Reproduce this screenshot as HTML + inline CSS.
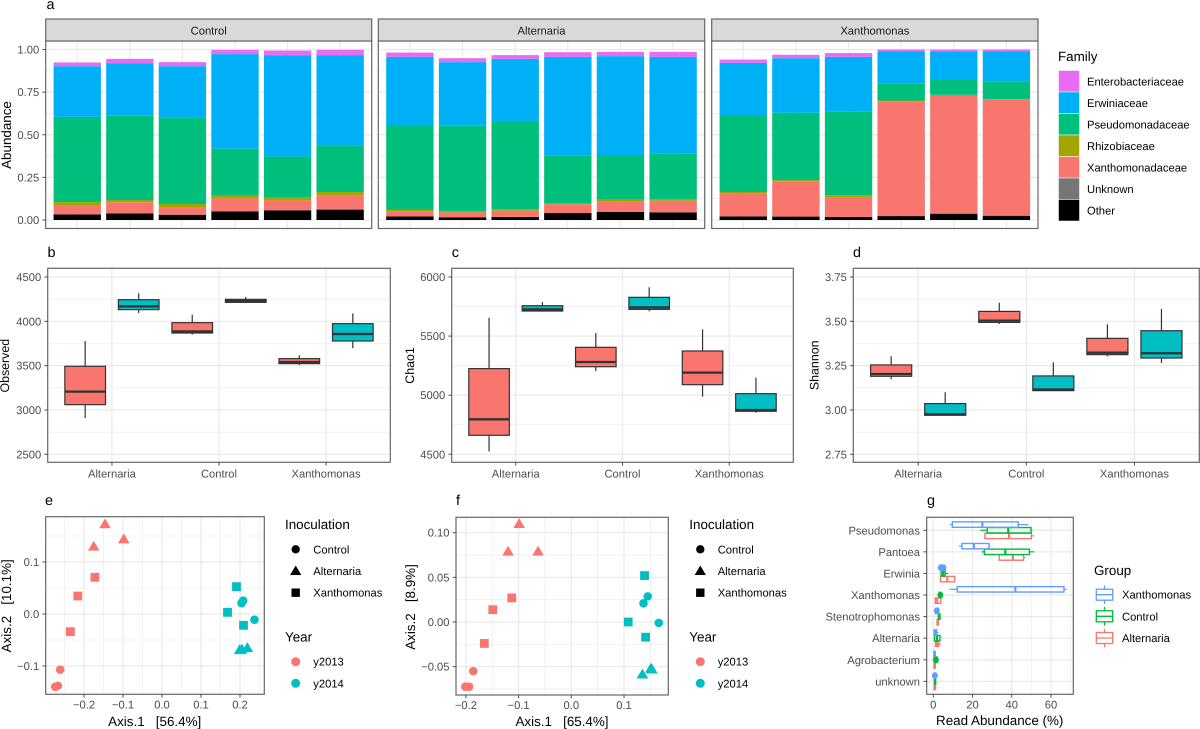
<!DOCTYPE html>
<html lang="en">
<head>
<meta charset="utf-8">
<title>Microbiome composition and diversity figure</title>
<style>
html,body{margin:0;padding:0;background:#fff;width:1200px;height:729px;overflow:hidden}
svg{display:block;font-family:"Liberation Sans",Arial,sans-serif;filter:blur(.3px);text-rendering:geometricPrecision}
.letter{font-size:14.4px;fill:#000}
.title{font-size:13.4px;fill:#000}
.title-s{font-size:12.4px;fill:#000}
.leg{font-size:11.2px;fill:#000}
</style>
</head>
<body>
<svg id="figure" width="1200" height="729" viewBox="0 0 1200 729" xmlns="http://www.w3.org/2000/svg">
  <rect x="0" y="0" width="1200" height="729" fill="#fff"/>
  <text class="letter" x="46.5" y="9">a</text>
  <text class="letter" x="47.5" y="257">b</text>
  <text class="letter" x="451.7" y="257">c</text>
  <text class="letter" x="853" y="257">d</text>
  <text class="letter" x="45" y="505">e</text>
  <text class="letter" x="456" y="505">f</text>
  <text class="letter" x="927" y="505">g</text>

  <text class="title" transform="translate(11,135) rotate(-90)" text-anchor="middle">Abundance</text>
  <text class="title-s" transform="translate(9,365.7) rotate(-90)" text-anchor="middle">Observed</text>
  <text class="title-s" transform="translate(414,365.5) rotate(-90)" text-anchor="middle">Chao1</text>
  <text class="title-s" transform="translate(818.3,365.3) rotate(-90)" text-anchor="middle">Shannon</text>
  <text class="title" x="154.7" y="726" text-anchor="middle">Axis.1&#160;&#160;&#160;[56.4%]</text>
  <text class="title" transform="translate(11,605.8) rotate(-90)" text-anchor="middle">Axis.2&#160;&#160;&#160;[10.1%]</text>
  <text class="title" x="562" y="726" text-anchor="middle">Axis.1&#160;&#160;&#160;[65.4%]</text>
  <text class="title" transform="translate(415,607) rotate(-90)" text-anchor="middle">Axis.2&#160;&#160;&#160;[8.9%]</text>
  <text class="title" x="999.7" y="725" text-anchor="middle">Read Abundance (%)</text>

  <g>
    <text class="title" x="1058" y="61">Family</text>
    <rect x="1058.5" y="70.5" width="21" height="21.5" fill="#E76BF3" stroke="#fff" stroke-width=".5"/>
    <rect x="1058.5" y="92" width="21" height="21.5" fill="#00B0F6" stroke="#fff" stroke-width=".5"/>
    <rect x="1058.5" y="113.5" width="21" height="21.5" fill="#00BF7D" stroke="#fff" stroke-width=".5"/>
    <rect x="1058.5" y="135" width="21" height="21.5" fill="#A3A500" stroke="#fff" stroke-width=".5"/>
    <rect x="1058.5" y="156.5" width="21" height="21.5" fill="#F8766D" stroke="#fff" stroke-width=".5"/>
    <rect x="1058.5" y="178" width="21" height="21.5" fill="#767676" stroke="#fff" stroke-width=".5"/>
    <rect x="1058.5" y="199.5" width="21" height="21.5" fill="#000" stroke="#fff" stroke-width=".5"/>
    <text class="leg" x="1087" y="85.3">Enterobacteriaceae</text>
    <text class="leg" x="1087" y="106.8">Erwiniaceae</text>
    <text class="leg" x="1087" y="128.3">Pseudomonadaceae</text>
    <text class="leg" x="1087" y="149.8">Rhizobiaceae</text>
    <text class="leg" x="1087" y="171.3">Xanthomonadaceae</text>
    <text class="leg" x="1087" y="192.8">Unknown</text>
    <text class="leg" x="1087" y="214.3">Other</text>
  </g>

  <g>
    <text class="title" x="285" y="529">Inoculation</text>
    <circle cx="295.7" cy="549.3" r="4.2" fill="#000"/>
    <polygon points="295.7,565.5 301.3,575 290.1,575" fill="#000"/>
    <rect x="291.5" y="588.5" width="8.4" height="8.4" fill="#000"/>
    <text class="leg" x="313.3" y="553.3">Control</text>
    <text class="leg" x="313.3" y="575">Alternaria</text>
    <text class="leg" x="313.3" y="596.7">Xanthomonas</text>
    <text class="title" x="285" y="641.7">Year</text>
    <circle cx="295.7" cy="661.7" r="4.5" fill="#F8766D"/>
    <circle cx="295.7" cy="683.3" r="4.5" fill="#00BFC4"/>
    <text class="leg" x="313.3" y="665.7">y2013</text>
    <text class="leg" x="313.3" y="687.3">y2014</text>
  </g>

  <g>
    <text class="title" x="689.3" y="529">Inoculation</text>
    <circle cx="700.3" cy="549.3" r="4.2" fill="#000"/>
    <polygon points="700.3,565.5 705.9,575 694.7,575" fill="#000"/>
    <rect x="696.1" y="588.5" width="8.4" height="8.4" fill="#000"/>
    <text class="leg" x="717.7" y="553.3">Control</text>
    <text class="leg" x="717.7" y="575">Alternaria</text>
    <text class="leg" x="717.7" y="596.7">Xanthomonas</text>
    <text class="title" x="689.3" y="641.7">Year</text>
    <circle cx="700.3" cy="661.7" r="4.5" fill="#F8766D"/>
    <circle cx="700.3" cy="683.3" r="4.5" fill="#00BFC4"/>
    <text class="leg" x="717.7" y="665.7">y2013</text>
    <text class="leg" x="717.7" y="687.3">y2014</text>
  </g>

  <g>
    <text class="title" x="1094" y="575">Group</text>
    <g fill="none" stroke="#619CFF" stroke-width="1.3">
      <rect x="1096.3" y="589.2" width="16.4" height="11"/><line x1="1096.3" x2="1112.7" y1="594.7" y2="594.7"/><line x1="1104.5" x2="1104.5" y1="585.5" y2="589.2"/><line x1="1104.5" x2="1104.5" y1="600.2" y2="604"/>
    </g>
    <g fill="none" stroke="#00BA38" stroke-width="1.3">
      <rect x="1096.3" y="610.8" width="16.4" height="11"/><line x1="1096.3" x2="1112.7" y1="616.3" y2="616.3"/><line x1="1104.5" x2="1104.5" y1="607" y2="610.8"/><line x1="1104.5" x2="1104.5" y1="621.8" y2="625.6"/>
    </g>
    <g fill="none" stroke="#F8766D" stroke-width="1.3">
      <rect x="1096.3" y="632.5" width="16.4" height="11"/><line x1="1096.3" x2="1112.7" y1="638" y2="638"/><line x1="1104.5" x2="1104.5" y1="628.8" y2="632.5"/><line x1="1104.5" x2="1104.5" y1="643.5" y2="647.2"/>
    </g>
    <text class="leg" x="1122" y="598.7">Xanthomonas</text>
    <text class="leg" x="1122" y="620.3">Control</text>
    <text class="leg" x="1122" y="642">Alternaria</text>
  </g>
</svg>

<script>
// ---------- Panel a: stacked family abundance (6 samples in each facet) ----------
const facetNames = ["Control", "Alternaria", "Xanthomonas"];
const abundanceTickLabels = ["0.00", "0.25", "0.50", "0.75", "1.00"];
const otherValues = [.033,.039,.031,.051,.057,.061, .021,.016,.018,.041,.047,.045, .021,.020,.018,.023,.037,.025];
const unknownValues = [0,0,0,0,0,0, 0,0,0,0,0,0, 0,0,0,0,0,0];
const xanthomonadaceaeValues = [.055,.065,.043,.076,.058,.085, .030,.029,.037,.051,.064,.068, .135,.207,.117,.674,.693,.680];
const rhizobiaceaeValues = [.017,.013,.020,.016,.016,.018, .008,.008,.008,.008,.008,.010, .008,.007,.011,.004,.004,.004];
const pseudomonadaceaeValues = [.500,.494,.508,.275,.242,.275, .498,.500,.515,.277,.262,.266, .449,.395,.489,.098,.090,.105];
const erwiniaceaeValues = [.297,.309,.300,.555,.594,.528, .400,.373,.367,.580,.580,.568, .309,.320,.322,.189,.166,.174];
const enterobacteriaceaeValues = [.022,.025,.024,.025,.027,.031, .025,.023,.022,.027,.025,.029, .019,.020,.022,.012,.010,.012];

// ---------- Panels b, c, d: boxplots, each row is [low, q1, median, q3, high] ----------
const boxCategories = ["Alternaria", "Control", "Xanthomonas"];
const observedTickLabels = ["2500", "3000", "3500", "4000", "4500"];
const observed2013 = [[2910,3060,3207,3493,3778],[3850,3868,3887,3985,4075],[3508,3523,3541,3579,3617]];
const observed2014 = [[4094,4132,4169,4244,4316],[4214,4214,4229,4248,4274],[3696,3778,3857,3974,4090]];
const chao1TickLabels = ["4500", "5000", "5500", "6000"];
const chao12013 = [[4525,4661,4796,5225,5656],[5205,5241,5281,5405,5526],[4988,5089,5191,5374,5557]];
const chao12014 = [[5712,5712,5726,5757,5788],[5710,5726,5743,5828,5913],[4852,4864,4875,5013,5148]];
const shannonTickLabels = ["2.75", "3.00", "3.25", "3.50", "3.75"];
const shannon2013 = [[3.173,3.19,3.203,3.254,3.303],[3.485,3.494,3.504,3.556,3.605],[3.303,3.312,3.323,3.404,3.483]];
const shannon2014 = [[2.97,2.97,2.976,3.036,3.10],[3.109,3.109,3.115,3.192,3.269],[3.265,3.293,3.32,3.447,3.57]];

// ---------- Panels e, f: ordination points ----------
const pcoaYear = ["y2013","y2013","y2013","y2013","y2013","y2013","y2013","y2013","y2013","y2014","y2014","y2014","y2014","y2014","y2014","y2014","y2014","y2014"];
const pcoaInoculation = ["Alternaria","Alternaria","Alternaria","Xanthomonas","Xanthomonas","Xanthomonas","Control","Control","Control","Xanthomonas","Xanthomonas","Xanthomonas","Control","Control","Control","Alternaria","Alternaria","Alternaria"];
const eAxis1 = [-.146,-.175,-.098,-.172,-.216,-.235,-.261,-.267,-.274,.191,.168,.209,.208,.204,.237,.199,.219,.205];
const eAxis2 = [.173,.130,.144,.0705,.0346,-.034,-.107,-.138,-.140,.0526,.0032,-.0218,.0256,.021,-.011,-.069,-.065,-.068];
const eXTickLabels = ["\u22120.2","\u22120.1","0.0","0.1","0.2"];
const eYTickLabels = ["\u22120.1","0.0","0.1"];
const fAxis1 = [-.099,-.120,-.063,-.113,-.149,-.165,-.186,-.194,-.201,.139,.108,.141,.145,.137,.166,.151,.135,.153];
const fAxis2 = [.110,.079,.079,.027,.0138,-.024,-.055,-.0724,-.0724,.052,0,-.017,.0287,.0209,-.001,-.052,-.0586,-.053];
const fXTickLabels = ["\u22120.2","\u22120.1","0.0","0.1"];
const fYTickLabels = ["\u22120.05","0.00","0.05","0.10"];

// ---------- Panel g: horizontal boxplots, each row is [min, q1, median, q3, max] ----------
const genusCategories = ["Pseudomonas","Pantoea","Erwinia","Xanthomonas","Stenotrophomonas","Alternaria","Agrobacterium","unknown"];
const readTickLabels = ["0","20","40","60"];
const readsXanthomonas = [[8.5,9.7,25,43.3,48.6],[13,14.6,20.7,28.4,29],[3,3.5,4.5,5.5,6],[8.2,12.2,41.8,66.6,68],[1,1.2,1.8,2.6,2.8],[.1,.4,.9,1.7,2.7],[.2,.3,.6,1,1.2],[.2,.5,.9,1.3,1.6]];
const readsControl = [[24,27.5,38.2,49.8,50.5],[24.6,26,36.7,49,51.5],[4,4,5,6,7.6],[2.8,3,3.6,4,4.5],[2.4,2.6,3,3.4,3.7],[.4,.6,1.9,3.4,3.6],[.5,.7,1.3,2,2.4],[.5,.6,.9,1.2,1.4]];
const readsAlternaria = [[26.3,26.3,38.6,50,51.3],[33.3,33.6,40.6,46,47],[3.4,3.7,7.1,10.9,11.4],[.8,1,2,3.8,4],[1.8,1.9,2.2,2.6,2.8],[1,1.1,1.8,2.7,3.9],[.3,.4,.7,1,1.1],[.4,.5,.8,1.1,1.2]];
const outlierGenus = ["Erwinia","Erwinia","Xanthomonas","Stenotrophomonas","Agrobacterium","unknown"];
const outlierGroup = ["Xanthomonas","Xanthomonas","Control","Xanthomonas","Control","Xanthomonas"];
const outlierReads = [3.8,5.2,3.6,1.8,1.3,.8];

// ---------- Drawing helpers ----------
const SVGNS = "http://www.w3.org/2000/svg";
const figure = document.getElementById("figure");
const GRID = "#E9E9E9", BORDER = "#666", TICK = "#4D4D4D", BOXLINE = "#333";
const RED = "#F8766D", TEAL = "#00BFC4";
const groupColor = {Xanthomonas:"#619CFF", Control:"#00BA38", Alternaria:"#F8766D"};

function make(tag, attrs, parent, txt) {
  const el = document.createElementNS(SVGNS, tag);
  for (const k in attrs) el.setAttribute(k, attrs[k]);
  if (txt !== undefined) el.textContent = txt;
  parent.appendChild(el);
  return el;
}
function makeGroup(parent, name) {
  const el = make("g", {}, parent);
  
  
  return el;
}
function rule(parent, x1, y1, x2, y2, stroke, w, name) {
  const el = make("line", {x1, y1, x2, y2, stroke, "stroke-width": w}, parent);
  
  
  return el;
}
function label(parent, x, y, txt, anchor, size, fill, name) {
  const el = make("text", {x, y, "text-anchor": anchor, "font-size": size, fill}, parent, txt);
  
  
  return el;
}
function linear(d0, d1, r0, r1) { return v => r0 + (v - d0) * (r1 - r0) / (d1 - d0); }
function tickValue(t) { return Number(t.replace("\u2212", "-")); }
function bandCenter(x0, x1, n) { return i => x0 + (i + 0.6) * (x1 - x0) / (n + 0.2); }

function panelBackground(parent, p) {
  const el = make("rect", {x: p.x0, y: p.y0, width: p.x1 - p.x0, height: p.y1 - p.y0, fill: "#fff"}, parent);
  
  
}
function panelBorder(parent, p) {
  const el = make("rect", {x: p.x0, y: p.y0, width: p.x1 - p.x0, height: p.y1 - p.y0, fill: "none", stroke: BORDER, "stroke-width": 1.2}, parent);
  
  
}
function horizontalGrid(parent, p, scale, labels) {
  const vals = labels.map(tickValue);
  const half = (vals[1] - vals[0]) / 2;
  const mids = [vals[0] - half].concat(vals.map(v => v + half));
  mids.forEach(v => { const y = scale(v); if (y > p.y0 && y < p.y1) rule(parent, p.x0, y, p.x1, y, GRID, .6, "minor-gridline"); });
  vals.forEach(v => rule(parent, p.x0, scale(v), p.x1, scale(v), GRID, 1.2, "major-gridline"));
}
function verticalGrid(parent, p, scale, labels) {
  const vals = labels.map(tickValue);
  const half = (vals[1] - vals[0]) / 2;
  const mids = [vals[0] - half].concat(vals.map(v => v + half));
  mids.forEach(v => { const x = scale(v); if (x > p.x0 && x < p.x1) rule(parent, x, p.y0, x, p.y1, GRID, .6, "minor-gridline"); });
  vals.forEach(v => rule(parent, scale(v), p.y0, scale(v), p.y1, GRID, 1.2, "major-gridline"));
}
function yAxisTicks(parent, p, scale, labels) {
  labels.forEach(t => {
    const y = scale(tickValue(t));
    rule(parent, p.x0 - 3.3, y, p.x0, y, TICK, 1, "y-axis-tick");
    label(parent, p.x0 - 6.5, y + 4, t, "end", 11.2, TICK, "y-tick-label");
  });
}
function xAxisTicks(parent, p, scale, labels) {
  labels.forEach(t => {
    const x = scale(tickValue(t));
    rule(parent, x, p.y1, x, p.y1 + 3.3, TICK, 1, "x-axis-tick");
    label(parent, x, p.y1 + 14, t, "middle", 11.2, TICK, "x-tick-label");
  });
}

// ---------- Panel a ----------
const stackOrder = [
  {name: "other", values: otherValues, color: "#000"},
  {name: "unknown", values: unknownValues, color: "#767676"},
  {name: "xanthomonadaceae", values: xanthomonadaceaeValues, color: "#F8766D"},
  {name: "rhizobiaceae", values: rhizobiaceaeValues, color: "#A3A500"},
  {name: "pseudomonadaceae", values: pseudomonadaceaeValues, color: "#00BF7D"},
  {name: "erwiniaceae", values: erwiniaceaeValues, color: "#00B0F6"},
  {name: "enterobacteriaceae", values: enterobacteriaceaeValues, color: "#E76BF3"}
];
const abundanceY = linear(0, 1, 220, 49.5);
const facetFrames = [{x0: 45.7, x1: 371.7}, {x0: 378.3, x1: 704.7}, {x0: 711.7, x1: 1038}];
const samplesPerFacet = 6;
const stripTop = 19, stripBottom = 41, facetBottom = 228.5;

facetNames.forEach((facet, f) => {
  const frame = facetFrames[f];
  const p = {x0: frame.x0, x1: frame.x1, y0: stripBottom, y1: facetBottom};
  const g = makeGroup(figure, "abundance-facet-" + facet.toLowerCase());
  panelBackground(g, p);
  horizontalGrid(g, p, abundanceY, abundanceTickLabels);
  const center = bandCenter(p.x0, p.x1, samplesPerFacet);
  const step = (p.x1 - p.x0) / (samplesPerFacet + 0.2);
  for (let s = 0; s < samplesPerFacet; s++) rule(g, center(s), p.y0, center(s), p.y1, GRID, 1.2, "sample-gridline");
  for (let s = 0; s < samplesPerFacet; s++) {
    let cumulative = 0;
    const idx = f * samplesPerFacet + s;
    stackOrder.forEach(series => {
      const v = series.values[idx];
      const top = abundanceY(cumulative + v), bottom = abundanceY(cumulative);
      const bar = make("rect", {x: center(s) - step * .45, y: top, width: step * .9, height: bottom - top, fill: series.color}, g);
      
      
      cumulative += v;
    });
  }
  panelBorder(g, p);
  const strip = make("rect", {x: p.x0, y: stripTop, width: p.x1 - p.x0, height: stripBottom - stripTop, fill: "#D9D9D9", stroke: BORDER, "stroke-width": 1.2}, g);
  
  
  label(g, (p.x0 + p.x1) / 2, 34.4, facet, "middle", 11.2, "#1A1A1A", "facet-strip-label");
  if (f === 0) yAxisTicks(g, p, abundanceY, abundanceTickLabels);
});

// ---------- Panels b, c, d ----------
function boxPanel(name, p, scale, tickLabels, series2013, series2014) {
  const g = makeGroup(figure, name);
  panelBackground(g, p);
  horizontalGrid(g, p, scale, tickLabels);
  const center = bandCenter(p.x0, p.x1, boxCategories.length);
  const step = (p.x1 - p.x0) / 3.2;
  boxCategories.forEach((c, i) => rule(g, center(i), p.y0, center(i), p.y1, GRID, 1.2, "category-gridline"));
  [[series2013, RED, -1, "y2013"], [series2014, TEAL, 1, "y2014"]].forEach(([series, color, side, year]) => {
    series.forEach((st, i) => {
      const cx = center(i) + side * step * .25, hw = step * .19;
      rule(g, cx, scale(st[4]), cx, scale(st[3]), BOXLINE, 1.2, "whisker-upper-" + year);
      rule(g, cx, scale(st[1]), cx, scale(st[0]), BOXLINE, 1.2, "whisker-lower-" + year);
      const box = make("rect", {x: cx - hw, y: scale(st[3]), width: hw * 2, height: scale(st[1]) - scale(st[3]), fill: color, stroke: BOXLINE, "stroke-width": 1.2}, g);
      
      
      rule(g, cx - hw, scale(st[2]), cx + hw, scale(st[2]), BOXLINE, 2.3, "median-" + year);
    });
  });
  panelBorder(g, p);
  yAxisTicks(g, p, scale, tickLabels);
  boxCategories.forEach((c, i) => {
    rule(g, center(i), p.y1, center(i), p.y1 + 3.3, TICK, 1, "x-axis-tick");
    label(g, center(i), p.y1 + 15, c, "middle", 11.2, TICK, "x-tick-label");
  });
}
boxPanel("observed-boxplot", {x0: 47.7, x1: 390.3, y0: 268.3, y1: 462.3}, linear(2500, 4500, 454.3, 277), observedTickLabels, observed2013, observed2014);
boxPanel("chao1-boxplot", {x0: 451.7, x1: 793.3, y0: 268.3, y1: 462.3}, linear(4500, 6000, 454.3, 277), chao1TickLabels, chao12013, chao12014);
boxPanel("shannon-boxplot", {x0: 853.3, x1: 1199.3, y0: 268.3, y1: 462.3}, linear(2.75, 3.75, 454.3, 277), shannonTickLabels, shannon2013, shannon2014);

// ---------- Panels e, f ----------
function pcoaPanel(name, p, xs, ys, xTicks, yTicks, axis1, axis2) {
  const g = makeGroup(figure, name);
  panelBackground(g, p);
  horizontalGrid(g, p, ys, yTicks);
  verticalGrid(g, p, xs, xTicks);
  axis1.forEach((v, i) => {
    const cx = xs(v), cy = ys(axis2[i]);
    const color = pcoaYear[i] === "y2013" ? RED : TEAL;
    const kind = pcoaInoculation[i];
    let mark;
    if (kind === "Control") mark = make("circle", {cx, cy, r: 4.3, fill: color}, g);
    else if (kind === "Xanthomonas") mark = make("rect", {x: cx - 4.4, y: cy - 4.4, width: 8.8, height: 8.8, fill: color}, g);
    else mark = make("polygon", {points: [cx, cy - 5.7, cx + 5.8, cy + 4.2, cx - 5.8, cy + 4.2].join(" "), fill: color}, g);
    
    
  });
  panelBorder(g, p);
  yAxisTicks(g, p, ys, yTicks);
  xAxisTicks(g, p, xs, xTicks);
}
pcoaPanel("pcoa-e-scatter", {x0: 45.7, x1: 264.3, y0: 516.7, y1: 694.3}, linear(0, .2, 162, 240), linear(0, .1, 614, 562), eXTickLabels, eYTickLabels, eAxis1, eAxis2);
pcoaPanel("pcoa-f-scatter", {x0: 456, x1: 668.3, y0: 517.3, y1: 695}, linear(0, .1, 571.3, 624), linear(0, .1, 622, 532.7), fXTickLabels, fYTickLabels, fAxis1, fAxis2);

// ---------- Panel g ----------
(function () {
  const p = {x0: 926.7, x1: 1073.3, y0: 517.3, y1: 694.3};
  const g = makeGroup(figure, "read-abundance-boxplot");
  const xs = linear(0, 60, 933.3, 1051);
  const step = (p.y1 - p.y0) / (genusCategories.length + 0.2);
  const rowY = i => p.y0 + (i + 0.6) * step;
  panelBackground(g, p);
  verticalGrid(g, p, xs, readTickLabels);
  genusCategories.forEach((c, i) => rule(g, p.x0, rowY(i), p.x1, rowY(i), GRID, 1.2, "genus-gridline"));
  const groups = [
    {name: "Alternaria", rows: readsAlternaria, offset: 5.67},
    {name: "Control", rows: readsControl, offset: 0},
    {name: "Xanthomonas", rows: readsXanthomonas, offset: -5.67}
  ];
  groups.forEach(grp => {
    const color = groupColor[grp.name];
    grp.rows.forEach((st, i) => {
      const cy = rowY(i) + grp.offset, hh = 2.7;
      rule(g, xs(st[0]), cy, xs(st[1]), cy, color, 1.2, "whisker-low-" + grp.name.toLowerCase());
      rule(g, xs(st[3]), cy, xs(st[4]), cy, color, 1.2, "whisker-high-" + grp.name.toLowerCase());
      const box = make("rect", {x: xs(st[1]), y: cy - hh, width: xs(st[3]) - xs(st[1]), height: hh * 2, fill: "none", stroke: color, "stroke-width": 1.4}, g);
      
      
      rule(g, xs(st[2]), cy - hh, xs(st[2]), cy + hh, color, 2.2, "median-" + grp.name.toLowerCase());
    });
  });
  outlierReads.forEach((v, i) => {
    const row = genusCategories.indexOf(outlierGenus[i]);
    const grp = groups.find(d => d.name === outlierGroup[i]);
    const dot = make("circle", {cx: xs(v), cy: rowY(row) + grp.offset, r: 3, fill: groupColor[grp.name]}, g);
    
    
  });
  panelBorder(g, p);
  xAxisTicks(g, p, xs, readTickLabels);
  genusCategories.forEach((c, i) => {
    rule(g, p.x0 - 3.3, rowY(i), p.x0, rowY(i), TICK, 1, "y-axis-tick");
    label(g, p.x0 - 6.7, rowY(i) + 4, c, "end", 11.2, TICK, "y-tick-label");
  });
})();
</script>
</body>
</html>
